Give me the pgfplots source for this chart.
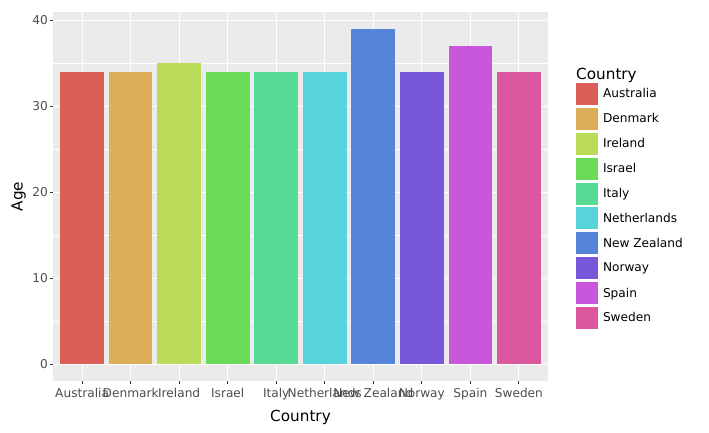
\documentclass[border=0pt]{standalone}
\usepackage{pgfplots}
\pgfplotsset{compat=1.18}
\usepackage{fontspec}
\setmainfont{DejaVu Sans}
\definecolor{c0}{HTML}{DB5F57}
\definecolor{c1}{HTML}{DBAE57}
\definecolor{c2}{HTML}{B9DB57}
\definecolor{c3}{HTML}{69DB57}
\definecolor{c4}{HTML}{57DB94}
\definecolor{c5}{HTML}{57D3DB}
\definecolor{c6}{HTML}{5784DB}
\definecolor{c7}{HTML}{7957DB}
\definecolor{c8}{HTML}{C957DB}
\definecolor{c9}{HTML}{DB579E}
\definecolor{ggbg}{HTML}{EBEBEB}
\definecolor{ggtick}{HTML}{4D4D4D}
\definecolor{ggtickline}{HTML}{333333}
\pgfplotsset{
  mybar/.style={ybar, bar shift=0pt, bar width=0.9, draw=none, fill=#1,
    legend image code/.code={\fill[#1] (0bp,-11bp) rectangle (22bp,11bp);}},
}
\begin{document}
\begin{tikzpicture}
\useasboundingbox (0,0) rectangle (709bp,433bp);
\begin{axis}[
  at={(53bp,52bp)}, anchor=south west,
  scale only axis, width=495bp, height=369bp,
  xmin=-0.6, xmax=9.6, ymin=-1.95, ymax=40.95,
  xtick={0,...,9},
  xticklabels={Australia,Denmark,Ireland,Israel,Italy,Netherlands,New Zealand,Norway,Spain,Sweden},
  ytick={0,10,20,30,40},
  minor ytick={5,15,25,35},
  minor xtick={},
  xtick pos=bottom, ytick pos=left,
  axis background/.style={fill=ggbg},
  axis line style={draw=none},
  grid=both,
  major grid style={white, line width=1.1bp},
  minor grid style={white, line width=0.55bp},
  tick align=outside,
  major tick length=3bp,
  minor tick length=0pt,
  tick style={ggtickline, line width=0.8bp},
  ticklabel style={font=\fontsize{12.2}{14}\selectfont, text=ggtick},
  xticklabel style={inner sep=1bp, yshift=-3bp},
  yticklabel style={inner sep=2bp},
  /pgf/number format/assume math mode=true,
  xlabel={Country}, ylabel={Age},
  label style={font=\fontsize{15.3}{18}\selectfont},
  xlabel style={yshift=-6bp},
  ylabel style={yshift=1bp},
  legend style={at={(576bp-53bp,433bp-83bp-52bp)}, anchor=north west,
    draw=none, fill=none, inner sep=0pt, outer sep=0pt,
    row sep=2.9bp, font=\fontsize{12.2}{14}\selectfont,
    nodes={inner sep=0pt, anchor=west}},
  legend cell align=left,
]
\addplot[mybar=c0] coordinates {(0,34)}; \addlegendentry{\hspace{5bp}Australia}
\addplot[mybar=c1] coordinates {(1,34)}; \addlegendentry{\hspace{5bp}Denmark}
\addplot[mybar=c2] coordinates {(2,35)}; \addlegendentry{\hspace{5bp}Ireland}
\addplot[mybar=c3] coordinates {(3,34)}; \addlegendentry{\hspace{5bp}Israel}
\addplot[mybar=c4] coordinates {(4,34)}; \addlegendentry{\hspace{5bp}Italy}
\addplot[mybar=c5] coordinates {(5,34)}; \addlegendentry{\hspace{5bp}Netherlands}
\addplot[mybar=c6] coordinates {(6,39)}; \addlegendentry{\hspace{5bp}New Zealand}
\addplot[mybar=c7] coordinates {(7,34)}; \addlegendentry{\hspace{5bp}Norway}
\addplot[mybar=c8] coordinates {(8,37)}; \addlegendentry{\hspace{5bp}Spain}
\addplot[mybar=c9] coordinates {(9,34)}; \addlegendentry{\hspace{5bp}Sweden}
\end{axis}
\node[anchor=base west, inner sep=0pt, font=\fontsize{15.3}{18}\selectfont] at (576bp,433bp-80bp) {Country};
\end{tikzpicture}
\end{document}
